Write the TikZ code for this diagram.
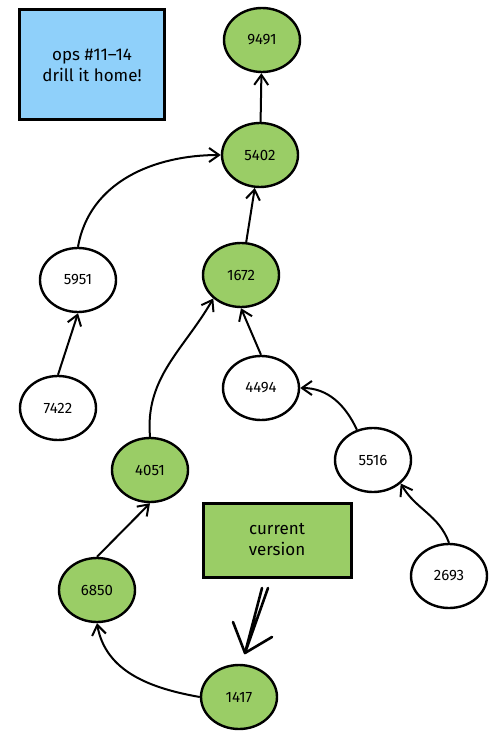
\documentclass[tikz,border=0pt]{standalone}
\usepackage{fontspec}
\setmainfont{Fira Sans}
\usetikzlibrary{shapes.geometric,arrows.meta,calc}
\definecolor{ngreen}{HTML}{9ACD66}
\definecolor{nblue}{HTML}{8FD0FA}
\tikzset{
  ver/.style={ellipse,draw=black,line width=2.4pt,minimum width=76pt,minimum height=64pt,inner sep=0pt,font=\fontsize{15}{18}\selectfont},
  cur/.style={ver,fill=ngreen},
  old/.style={ver,fill=white},
  edge/.style={line width=2pt,-{Straight Barb[length=10pt,width=14pt,line width=2pt]}},
  note/.style={draw=black,line width=3pt,align=center,inner sep=0pt,font=\fontsize{17}{21}\selectfont},
  bigarrow/.style={line width=2.6pt,line cap=round,line join=round},
}
\begin{document}
\begin{tikzpicture}[x=1pt,y=-1pt]
\useasboundingbox (0,0) rectangle (498,743);
\node[note,fill=nblue,minimum width=145pt,minimum height=110pt] (title) at (92,65) {ops \#11--14\\drill it home!};
\node[note,fill=ngreen,minimum width=148pt,minimum height=74pt] (curv) at (277,540) {current\\version};
\node[cur] (n9491) at (262,40) {9491};
\node[cur] (n5402) at (260,155) {5402};
\node[cur] (n1672) at (241,275) {1672};
\node[old] (n5951) at (78,280) {5951};
\node[old] (n7422) at (58,408) {7422};
\node[old] (n4494) at (261,388) {4494};
\node[old] (n5516) at (373,460) {5516};
\node[old] (n2693) at (449,576) {2693};
\node[cur] (n4051) at (150,470) {4051};
\node[cur] (n6850) at (97,590) {6850};
\node[cur] (n1417) at (239,697) {1417};
\coordinate (sA) at (262,588);
\coordinate (sB) at (268,588);
\coordinate (tip) at (245,653);
\coordinate (bL) at (233,622);
\coordinate (bR) at (272,637);
\draw[edge] (n5402) -- (n9491);
\draw[edge] (n1672) -- (n5402);
\draw[edge] (n5951.north) to[out=80,in=180] (n5402.west);
\draw[edge] (n7422.north) -- (n5951.south);
\draw[edge] (n4494.north) -- (n1672.south);
\draw[edge] (n5516.118) to[out=115,in=0] (n4494.east);
\draw[edge] (n2693.north) to[out=110,in=-60] (n5516.south east);
\draw[edge] (n4051.north) to[out=95,in=-120] (n1672.south west);
\draw[edge] (n6850.north) -- (n4051.south);
\draw[edge] (n1417.west) to[out=170,in=-80] (n6850.south);
\draw[bigarrow] (sA) -- (tip) (sB) -- (tip);
\draw[bigarrow] (bL) -- (tip) -- (bR);
\end{tikzpicture}
\end{document}
